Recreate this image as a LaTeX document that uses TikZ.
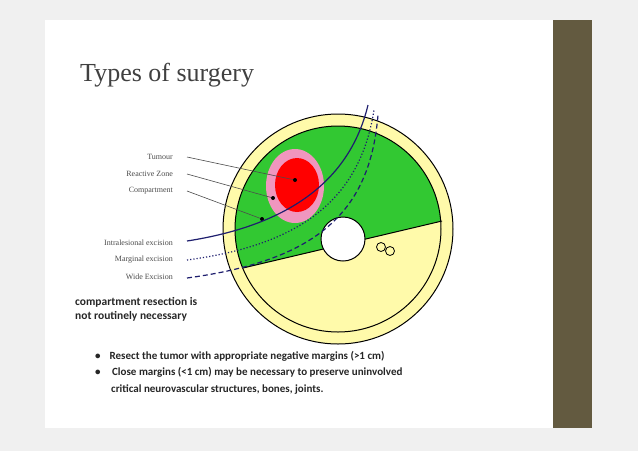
\documentclass[tikz,border=0pt]{standalone}
\usepackage{fontspec}
\setmainfont{Carlito}
\newfontfamily\titlefont{Liberation Serif}
\newfontfamily\labfont{Liberation Serif}
\begin{document}
\begin{tikzpicture}[x=1pt,y=-1pt,
  lab/.style={font=\labfont\fontsize{8}{9}\selectfont,text=black!70,anchor=east,inner sep=0},
  ptr/.style={draw=black!70,line width=0.6pt},
  dot/.style={circle,fill=black,inner sep=0,minimum size=4pt},
  bold/.style={font=\bfseries\fontsize{11.5}{14}\selectfont,text=black!85,anchor=west,inner sep=0,align=left}]
\definecolor{slidebg}{RGB}{240,240,240}
\definecolor{olive}{RGB}{99,90,64}
\definecolor{ltyel}{RGB}{255,250,170}
\definecolor{grn}{RGB}{50,200,50}
\definecolor{pinkz}{RGB}{240,150,190}
\definecolor{navy}{RGB}{30,30,110}
\useasboundingbox (0,0) rectangle (638,451);
\fill[slidebg] (0,0) rectangle (638,451);
\fill[white] (45,20) rectangle (553,428);
\fill[olive] (553,20) rectangle (592,428);
\node[font=\titlefont\fontsize{26}{28}\selectfont,text=black!75,anchor=west,inner sep=0] (title) at (80,75) {Types of surgery};
% diagram
\draw[fill=ltyel,line width=1pt] (338,229) circle (115);
\begin{scope}
\clip (338,229) circle (103);
\fill[grn] (200,275) -- (243,268) -- (442,221) -- (460,100) -- (200,100) -- cycle;
\end{scope}
\draw[line width=1pt] (338,229) circle (103);
\draw[line width=1pt] (243,268) -- (442,221);
\draw[fill=white,line width=1pt] (343,239) circle (22);
\draw[line width=0.8pt] (381,247) circle (4.5) (390,251) circle (4.5);
\fill[pinkz] (295,186) ellipse [x radius=29, y radius=37];
\fill[red] (297,185) ellipse [x radius=22, y radius=27];
\node[dot] (dT) at (295,180) {};
\node[dot] (dR) at (273,198) {};
\node[dot] (dC) at (262,219) {};
\node[lab] (lT) at (173,157) {Tumour};
\node[lab] (lR) at (173,174) {Reactive Zone};
\node[lab] (lC) at (173,191) {Compartment};
\node[lab] (lI) at (173,243) {Intralesional excision};
\node[lab] (lM) at (173,260) {Marginal excision};
\node[lab] (lW) at (173,277) {Wide Excision};
\draw[ptr] (lT.east) ++(14,0) coordinate (pT) -- (dT);
\draw[ptr] (lR.east) ++(14,0) coordinate (pR) -- (dR);
\draw[ptr] (lC.east) ++(14,0) coordinate (pC) -- (dC);
\coordinate (iS) at (187,241); \coordinate (iE) at (368,105);
\coordinate (mS) at (187,260); \coordinate (mE) at (374,110);
\coordinate (wS) at (187,278); \coordinate (wE) at (378,115);
\draw[navy,line width=1.2pt] (iS) .. controls (290,225) and (350,180) .. (iE);
\draw[navy,line width=1.2pt,dotted] (mS) .. controls (300,245) and (360,200) .. (mE);
\draw[navy,line width=1.2pt,dash pattern=on 5pt off 3pt] (wS) .. controls (320,260) and (370,210) .. (wE);
% texts
\node[bold] (note) at (75,309) {compartment resection is\\not routinely necessary};
\node[font=\bfseries\fontsize{11}{16.5}\selectfont,text=black!85,anchor=north west,inner sep=0,align=left] (bul) at (95,351)
{\textbullet\hspace{9pt}Resect the tumor with appropriate negative margins (>1 cm)\\
\textbullet\hspace{9pt} Close margins (<1 cm) may be necessary to preserve uninvolved\\
\hspace{16pt}critical neurovascular structures, bones, joints.};
\end{tikzpicture}
\end{document}
